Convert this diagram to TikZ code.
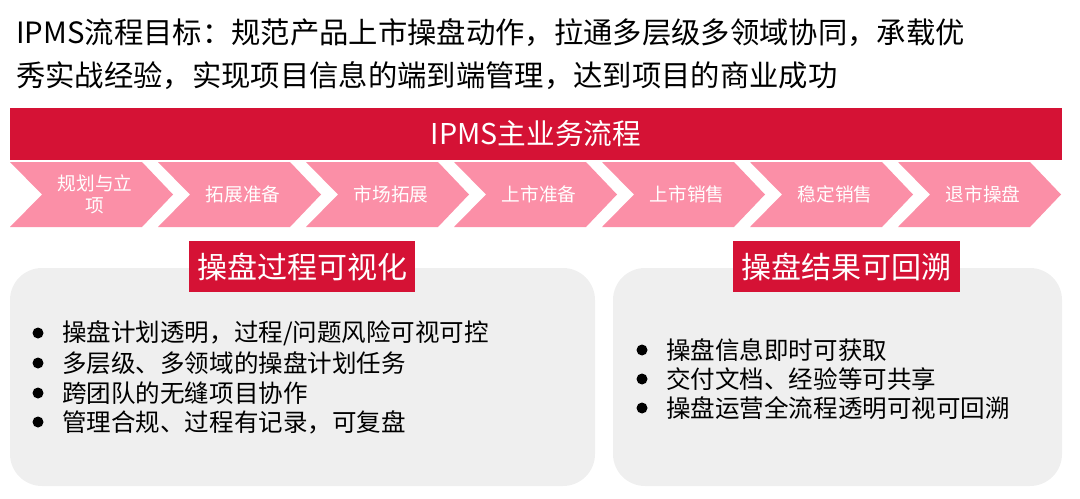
\documentclass[tikz,border=0pt]{standalone}
\usepackage{fontspec}
\setmainfont{Noto Sans CJK SC}
\begin{document}
\begin{tikzpicture}[x=0.75pt,y=-0.75pt,
  chev/.style={fill=chevpink,draw=none},
  chevtxt/.style={text=white,font=\fontsize{14}{17}\selectfont,align=center},
  redlab/.style={fill=ipmsred,text=white,font=\fontsize{22.5}{26}\selectfont,inner sep=0pt},
  panel/.style={fill=panelgray,draw=none,rounded corners=22pt},
  bul/.style={anchor=west,font=\fontsize{18.4}{21}\selectfont,inner sep=0pt}]
\definecolor{ipmsred}{HTML}{D51235}
\definecolor{chevpink}{HTML}{FB8FA7}
\definecolor{panelgray}{HTML}{EFEFEF}
\useasboundingbox (0,0) rectangle (1080,499);
\node[anchor=west,font=\fontsize{22}{26}\selectfont,inner sep=0pt] (t1) at (16,33) {IPMS流程目标：规范产品上市操盘动作，拉通多层级多领域协同，承载优};
\node[anchor=west,font=\fontsize{22}{26}\selectfont,inner sep=0pt] (t2) at (16,76) {秀实战经验，实现项目信息的端到端管理，达到项目的商业成功};
\fill[ipmsred] (10,108) rectangle (1062,160);
\node[text=white,font=\fontsize{21.5}{25}\selectfont] (bar) at (536,134) {IPMS主业务流程};
\foreach \i/\t in {0/{规划与立\\项},1/拓展准备,2/市场拓展,3/上市准备,4/上市销售,5/稳定销售,6/退市操盘}{
  \pgfmathsetmacro{\xo}{10+148*\i}
  \fill[chevpink] (\xo,162) -- (\xo+132,162) -- (\xo+163,194.5) -- (\xo+132,227) -- (\xo,227) -- (\xo+32,194.5) -- cycle;
  \node[chevtxt] (c\i) at (\xo+85,194.5) {\t};
}
\fill[panelgray,rounded corners=24pt] (10,268) rectangle (595,486);
\fill[panelgray,rounded corners=24pt] (613,268) rectangle (1062,486);
\node[redlab,minimum width=226pt*0.75,minimum height=51pt*0.75] (l1) at (302,266.5) {操盘过程可视化};
\node[redlab,minimum width=227pt*0.75,minimum height=51pt*0.75] (l2) at (846.5,266.5) {操盘结果可回溯};
\foreach \y/\t [count=\k] in {333/{操盘计划透明，过程/问题风险可视可控},363/{多层级、多领域的操盘计划任务},393/{跨团队的无缝项目协作},422/{管理合规、过程有记录，可复盘}}{
  \fill (38,\y) circle (5.5);
  \node[bul] (a\k) at (62,\y) {\t};
}
\foreach \y/\t [count=\k] in {350/{操盘信息即时可获取},379/{交付文档、经验等可共享},408/{操盘运营全流程透明可视可回溯}}{
  \fill (642,\y) circle (5.5);
  \node[bul] (b\k) at (666,\y) {\t};
}
\end{tikzpicture}
\end{document}
